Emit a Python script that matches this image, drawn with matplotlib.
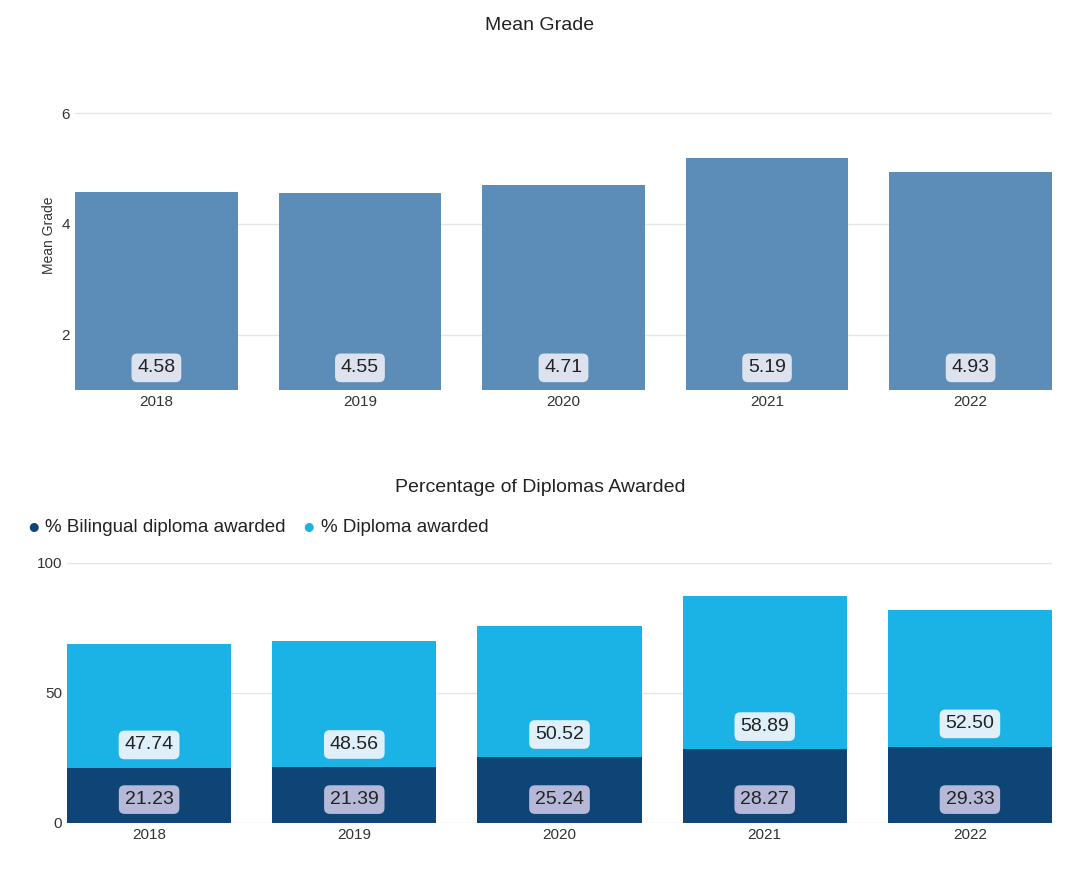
import matplotlib
matplotlib.use("Agg")
import matplotlib.pyplot as plt

years = ["2018", "2019", "2020", "2021", "2022"]
mean_grade = [4.58, 4.55, 4.71, 5.19, 4.93]
bilingual = [21.23, 21.39, 25.24, 28.27, 29.33]
diploma = [47.74, 48.56, 50.52, 58.89, 52.50]

W, H = 1080, 883
plt.rcParams["font.family"] = "Liberation Sans"
fig = plt.figure(figsize=(W/100, H/100), dpi=100)

def ax_px(l, t, r, b):
    return fig.add_axes([l/W, 1-b/H, (r-l)/W, (b-t)/H])

x = range(len(years))
# Top chart
ax1 = ax_px(75, 80, 1052, 390)
ax1.bar(x, [v-1 for v in mean_grade], bottom=1, width=0.8, color="#5b8db8")
ax1.set_ylim(1, 6.6)
ax1.set_xlim(-0.4, 4.4)
ax1.set_yticks([2, 4, 6])
ax1.set_ylabel("Mean Grade", fontsize=10, color="#333")
for i, v in enumerate(mean_grade):
    ax1.text(i, 1.4, f"{v:.2f}", ha="center", va="center", fontsize=14, color="#222",
             bbox=dict(boxstyle="round,pad=0.3", fc="#dde3ee", ec="none"))
fig.text(540/W, 1-25/H, "Mean Grade", ha="center", va="center", fontsize=14, color="#222")

# Bottom chart
ax2 = ax_px(67, 563, 1052, 823)
ax2.bar(x, bilingual, width=0.8, color="#0f4477")
ax2.bar(x, diploma, bottom=bilingual, width=0.8, color="#1bb3e6")
ax2.set_ylim(0, 100)
ax2.set_xlim(-0.4, 4.4)
ax2.set_yticks([0, 50, 100])
for i in x:
    ax2.text(i, 9, f"{bilingual[i]:.2f}", ha="center", va="center", fontsize=14, color="#222",
             bbox=dict(boxstyle="round,pad=0.3", fc="#b5b8d6", ec="none"))
    ax2.text(i, bilingual[i]+8.8, f"{diploma[i]:.2f}", ha="center", va="center", fontsize=14, color="#222",
             bbox=dict(boxstyle="round,pad=0.3", fc="#dff0fa", ec="none"))
fig.text(540/W, 1-488/H, "Percentage of Diplomas Awarded", ha="center", va="center", fontsize=14, color="#222")
fig.text(27/W, 1-528/H, "●", color="#0f4477", fontsize=15, va="center")
fig.text(45/W, 1-528/H, "% Bilingual diploma awarded", color="#222", fontsize=13.5, va="center")
fig.text(302/W, 1-528/H, "●", color="#1bb3e6", fontsize=15, va="center")
fig.text(321/W, 1-528/H, "% Diploma awarded", color="#222", fontsize=13.5, va="center")

for ax in (ax1, ax2):
    ax.set_xticks(list(x))
    ax.set_xticklabels(years)
    for s in ax.spines.values():
        s.set_visible(False)
    ax.tick_params(length=0, labelsize=11, colors="#333")
    ax.yaxis.grid(True, color="#e6e6e6", lw=1)
    ax.set_axisbelow(True)

fig.savefig("out.png", dpi=100)
